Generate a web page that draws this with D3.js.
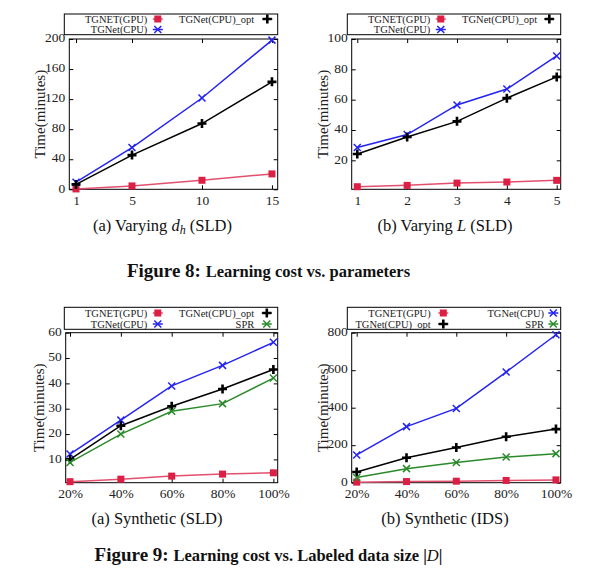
<!DOCTYPE html>
<html>
<head>
<meta charset="utf-8">
<script src="https://cdnjs.cloudflare.com/ajax/libs/d3/7.8.5/d3.min.js"></script>
<style>
  body { margin: 0; background: #fff; }
  svg { display: block; font-family: "Liberation Serif", "DejaVu Serif", serif; }
  .tick text { font-size: 13.5px; fill: #222; }
</style>
</head>
<body>
<div id="chart"></div>
<script>
// ---- data ----
var dhValues = [1, 5, 10, 15];
var dhGPU = [0.5, 4.5, 12, 20.5];
var dhCPU = [9.5, 55.5, 121.5, 198.5];
var dhOpt = [6.5, 45.5, 87.5, 143];

var lValues = [1, 2, 3, 4, 5];
var lGPU = [2.6, 3.5, 5, 5.7, 6.8];
var lCPU = [28.4, 37, 56.5, 67, 88.8];
var lOpt = [24.2, 35.4, 45.7, 61, 75];

var sizeValues = [20, 40, 60, 80, 100];
var sizeLabels = ["20%", "40%", "60%", "80%", "100%"];

var sldGPU = [1.2, 2.2, 3.4, 4.2, 4.7];
var sldCPU = [12.1, 25.5, 39, 47.1, 56.2];
var sldOpt = [10, 23.3, 31, 37.8, 45.5];
var sldSPR = [8.8, 20, 29, 32, 42.1];

var idsGPU = [3, 6, 8, 12, 15];
var idsCPU = [148, 299, 396, 590, 789];
var idsOpt = [57, 133, 188, 245, 286];
var idsSPR = [28, 75, 108, 137, 155];

var yTicks1 = [0, 40, 80, 120, 160, 200];
var yTicks2 = [20, 40, 60, 80, 100];
var yTicks3 = [10, 20, 30, 40, 50, 60];
var yTicks4 = [0, 200, 400, 600, 800];

var styles = {
  gpu: { name: "TGNET(GPU)", line: "#e2506e", color: "#dc1f45", marker: "square" },
  cpu: { name: "TGNet(CPU)", line: "#2424f0", color: "#2424f0", marker: "cross" },
  opt: { name: "TGNet(CPU)_opt", line: "#000", color: "#000", marker: "plus" },
  spr: { name: "SPR", line: "#2a8a2a", color: "#2a8a2a", marker: "cross" }
};

var svg = d3.select("#chart").append("svg").attr("width", 591).attr("height", 582);
svg.append("rect").attr("width", 591).attr("height", 582).attr("fill", "#fff");

function drawMarker(g, type, x, y, color) {
  if (type == "square") {
    g.append("rect").attr("x", x - 3.5).attr("y", y - 3.5).attr("width", 7).attr("height", 7).attr("fill", color);
  } else if (type == "cross") {
    g.append("path").attr("d", "M" + (x - 3.5) + "," + (y - 3.5) + "L" + (x + 3.5) + "," + (y + 3.5) +
      "M" + (x - 3.5) + "," + (y + 3.5) + "L" + (x + 3.5) + "," + (y - 3.5))
      .attr("stroke", color).attr("stroke-width", 1.5).attr("fill", "none");
  } else {
    g.append("path").attr("d", "M" + (x - 4.5) + "," + y + "L" + (x + 4.5) + "," + y +
      "M" + x + "," + (y - 4.5) + "L" + x + "," + (y + 4.5))
      .attr("stroke", color).attr("stroke-width", 2.6).attr("fill", "none");
  }
}

function panel(p) {
  var g = svg.append("g");
  var x = d3.scaleLinear().domain(p.xDomain).range([p.left, p.right]);
  var y = d3.scaleLinear().domain(p.yDomain).range([p.bottom, p.top]);

  // axes with inward ticks, mirrored on top/right
  var fmt = p.xLabels ? function(d, i) { return p.xLabels[i]; } : d3.format("d");
  g.append("g").attr("transform", "translate(0," + p.bottom + ")")
    .call(d3.axisBottom(x).tickValues(p.xs).tickSizeInner(-4).tickSizeOuter(0).tickPadding(6).tickFormat(fmt));
  g.append("g").attr("transform", "translate(0," + p.top + ")")
    .call(d3.axisTop(x).tickValues(p.xs).tickSizeInner(-4).tickSizeOuter(0).tickFormat(""));
  g.append("g").attr("class", "yaxis").attr("transform", "translate(" + p.left + ",0)")
    .call(d3.axisLeft(y).tickValues(p.yTicks).tickSizeInner(-4).tickSizeOuter(0).tickPadding(4).tickFormat(d3.format("d")));
  g.append("g").attr("transform", "translate(" + p.right + ",0)")
    .call(d3.axisRight(y).tickValues(p.yTicks).tickSizeInner(-4).tickSizeOuter(0).tickFormat(""));
  g.selectAll(".domain").remove();
  g.selectAll(".tick line").attr("stroke", "#000");
  g.selectAll("g").attr("font-family", null).attr("font-size", null);
  // y labels sit a touch above their tick, as in gnuplot output
  g.selectAll(".yaxis .tick text").attr("dy", "0.2em");

  g.append("rect").attr("x", p.left).attr("y", p.top)
    .attr("width", p.right - p.left).attr("height", p.bottom - p.top)
    .attr("fill", "none").attr("stroke", "#000").attr("stroke-width", 1);

  g.append("text").attr("transform", "translate(" + p.labelX + "," + ((p.top + p.bottom) / 2) + ") rotate(-90)")
    .attr("text-anchor", "middle").attr("dy", "0.35em").attr("font-size", 15).attr("fill", "#222")
    .text("Time(minutes)");

  // series
  var line = d3.line().x(function(d) { return x(d[0]); }).y(function(d) { return y(d[1]); });
  p.series.forEach(function(s) {
    var st = styles[s.key];
    var pts = p.xs.map(function(v, i) { return [v, s.values[i]]; });
    g.append("path").datum(pts).attr("d", line).attr("fill", "none")
      .attr("stroke", st.line).attr("stroke-width", 1.5);
    pts.forEach(function(d) { drawMarker(g, st.marker, x(d[0]), y(d[1]), st.color); });
  });

  // legend
  var L = p.legend;
  g.append("rect").attr("x", L.x0).attr("y", L.y0).attr("width", L.x1 - L.x0).attr("height", L.y1 - L.y0)
    .attr("fill", "#fff").attr("stroke", "#000").attr("stroke-width", 1);
  L.rows.forEach(function(row, r) {
    row.forEach(function(key, c) {
      var st = styles[key];
      var by = L.base[r];
      var cy = by - 3.5;
      var tx = L.x0 + L.textEnd[c], mx = L.x0 + L.mark[c];
      g.append("text").attr("x", tx).attr("y", by).attr("text-anchor", "end")
        .attr("font-size", 10.5).attr("fill", "#222").text(st.name);
      g.append("line").attr("x1", mx - 5).attr("x2", mx + 5).attr("y1", cy).attr("y2", cy)
        .attr("stroke", st.line).attr("stroke-width", 1.5);
      drawMarker(g, st.marker, mx, cy, st.color);
    });
  });

  // sub caption
  var cap = g.append("text").attr("x", p.capX).attr("y", p.capY).attr("text-anchor", "middle")
    .attr("font-size", 16.5).attr("fill", "#111");
  p.caption.forEach(function(part) {
    var t = cap.append("tspan").text(part.t);
    if (part.i) t.attr("font-style", "italic");
    if (part.sub) t.attr("font-size", 12).attr("font-style", "italic").attr("dy", 3);
    if (part.back) t.attr("dy", -3);
  });
}

panel({
  left: 69.3, right: 277.7, top: 39, bottom: 189.3,
  xDomain: [0.52, 15.41], yDomain: [0, 200], xs: dhValues, yTicks: yTicks1, labelX: 40,
  series: [{ key: "gpu", values: dhGPU }, { key: "cpu", values: dhCPU }, { key: "opt", values: dhOpt }],
  legend: { x0: 64.3, x1: 277.7, y0: 14, y1: 34.7, base: [22.5, 33], textEnd: [83, 190], mark: [93.5, 203],
    rows: [["gpu", "opt"], ["cpu"]] },
  capX: 162.5, capY: 231,
  caption: [{ t: "(a)  Varying " }, { t: "d", i: true }, { t: "h", sub: true }, { t: " (SLD)", back: true }]
});

panel({
  left: 351.7, right: 560.7, top: 39, bottom: 189.3,
  xDomain: [0.888, 5.08], yDomain: [0.9, 100], xs: lValues, yTicks: yTicks2, labelX: 322.5,
  series: [{ key: "gpu", values: lGPU }, { key: "cpu", values: lCPU }, { key: "opt", values: lOpt }],
  legend: { x0: 347.3, x1: 560.7, y0: 14, y1: 34.7, base: [22.5, 33], textEnd: [83, 190], mark: [93.5, 202],
    rows: [["gpu", "opt"], ["cpu"]] },
  capX: 445, capY: 231,
  caption: [{ t: "(b)  Varying " }, { t: "L", i: true }, { t: " (SLD)" }]
});

panel({
  left: 65.7, right: 277.7, top: 332.7, bottom: 482.7,
  xDomain: [18.3, 101.7], yDomain: [0.8, 60], xs: sizeValues, xLabels: sizeLabels, yTicks: yTicks3, labelX: 39,
  series: [{ key: "gpu", values: sldGPU }, { key: "cpu", values: sldCPU }, { key: "opt", values: sldOpt }, { key: "spr", values: sldSPR }],
  legend: { x0: 64.3, x1: 277.7, y0: 307.3, y1: 329.3, base: [316.5, 327.5], textEnd: [83, 190], mark: [93.5, 202.5],
    rows: [["gpu", "opt"], ["cpu", "spr"]] },
  capX: 157, capY: 524,
  caption: [{ t: "(a)  Synthetic (SLD)" }]
});

panel({
  left: 351.7, right: 560.7, top: 332.7, bottom: 482.7,
  xDomain: [18, 101.9], yDomain: [0, 800], xs: sizeValues, xLabels: sizeLabels, yTicks: yTicks4, labelX: 322.5,
  series: [{ key: "gpu", values: idsGPU }, { key: "cpu", values: idsCPU }, { key: "opt", values: idsOpt }, { key: "spr", values: idsSPR }],
  legend: { x0: 347.3, x1: 560.7, y0: 307.3, y1: 329.3, base: [316.5, 327.5], textEnd: [83.4, 196.7], mark: [96, 206],
    rows: [["gpu", "cpu"], ["opt", "spr"]] },
  capX: 445, capY: 524,
  caption: [{ t: "(b)  Synthetic (IDS)" }]
});

// figure captions
function figCaption(yPos, num, rest) {
  var t = svg.append("text").attr("x", 268.5).attr("y", yPos).attr("text-anchor", "middle")
    .attr("font-weight", "bold").attr("fill", "#111");
  t.append("tspan").attr("font-size", 19).text("Figure " + num + ": ");
  rest.forEach(function(part) {
    var s = t.append("tspan").attr("font-size", 16.5).text(part.t);
    if (part.i) s.attr("font-style", "italic").attr("font-weight", "normal");
  });
}
figCaption(276.5, 8, [{ t: "Learning cost vs. parameters" }]);
figCaption(560.5, 9, [{ t: "Learning cost vs. Labeled data size |" }, { t: "D", i: true }, { t: "|" }]);
</script>
</body>
</html>
